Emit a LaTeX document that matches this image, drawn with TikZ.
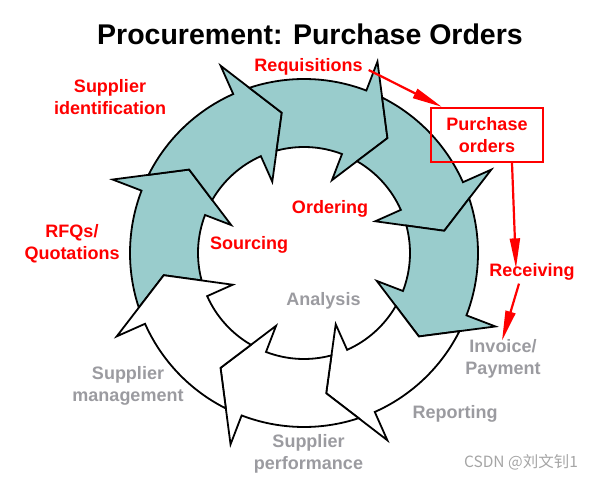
\documentclass[tikz,border=0pt]{standalone}
\usepackage{fontspec}
\setmainfont{Liberation Sans}
\newfontfamily\cjkfont{Noto Sans CJK SC}
\usetikzlibrary{arrows.meta}
\definecolor{ringteal}{RGB}{153,204,204}
\definecolor{stepgray}{RGB}{155,155,160}
\definecolor{markgray}{RGB}{165,165,165}
\tikzset{
  cyclearrow/.style={draw=black,line width=1.8pt,line join=miter},
  redlabel/.style={text=red,font=\fontsize{18}{21.5}\selectfont\bfseries,align=center,inner sep=0pt},
  graylabel/.style={text=stepgray,font=\fontsize{18}{21.5}\selectfont\bfseries,align=center,inner sep=0pt},
  redline/.style={draw=red,line width=2.2pt,-{Triangle[length=30pt,width=10pt]}}
}
% one block arrow of the cycle, tip at angle #1
\newcommand{\ringarrow}[2]{%
  \begin{scope}[shift={(304,227)},rotate=#1]
    \filldraw[cyclearrow,fill=#2] (15:174) arc[start angle=15,end angle=54.31,radius=174]
      -- (45:142) -- (51:106) arc[start angle=51,end angle=15,radius=106]
      -- (15:78) -- (0:142) -- (15:205) -- cycle;
  \end{scope}}
\begin{document}
\begin{tikzpicture}[x=1pt,y=1pt]
\useasboundingbox (0,0) rectangle (595,480);

\ringarrow{144}{ringteal}
\ringarrow{99}{ringteal}
\ringarrow{54}{ringteal}
\ringarrow{9}{ringteal}
\ringarrow{-36}{ringteal}
\ringarrow{-81}{white}
\ringarrow{-126}{white}
\ringarrow{-171}{white}

\node[font=\fontsize{28.5}{30}\selectfont\bfseries,inner sep=0pt] (title) at (310,446) {Procurement: Purchase Orders};

\node[redlabel] (req) at (308.5,413) {Requisitions};
\node[redlabel] (suppid) at (110,383) {Supplier\\identification};
\node[redlabel,draw=red,line width=2.2pt,minimum width=112pt,minimum height=54pt] (po) at (487,345) {Purchase\\orders};
\node[redlabel] (ordering) at (330,271) {Ordering};
\node[redlabel] (sourcing) at (249,235) {Sourcing};
\node[redlabel] (rfq) at (72,236) {RFQs/\\Quotations};
\node[redlabel] (rcv) at (532,208) {Receiving};

\node[graylabel] (analysis) at (323.5,179) {Analysis};
\node[graylabel] (inv) at (503,121) {Invoice/\\Payment};
\node[graylabel] (suppmgmt) at (128,94) {Supplier\\management};
\node[graylabel] (reporting) at (455,66) {Reporting};
\node[graylabel] (suppperf) at (308.5,26) {Supplier\\performance};

\node[text=markgray,font=\cjkfont\fontsize{15.5}{17}\selectfont,inner sep=0pt] (mark) at (521,18) {CSDN @刘文钊1};

\path[redline] ([xshift=6pt,yshift=-3pt]req.east) -- ([xshift=12pt]po.north west);
\path[redline] ([xshift=25pt]po.south) -- ([xshift=-16pt,yshift=-5pt]rcv.north);
\path[redline] ([xshift=-13pt,yshift=-3pt]rcv.south) -- ([xshift=-1pt,yshift=-1pt]inv.north);
\end{tikzpicture}
\end{document}
